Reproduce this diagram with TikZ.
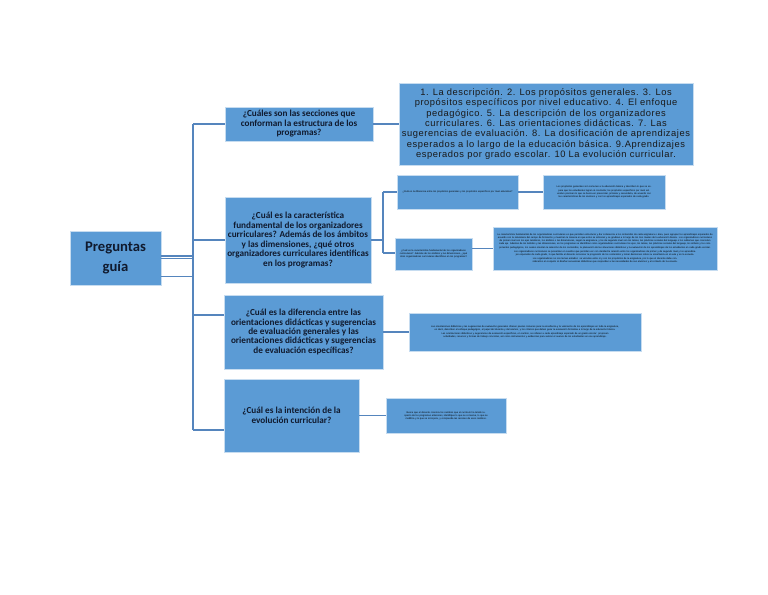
\documentclass[tikz,border=0pt]{standalone}
\usepackage{fontspec}
\setmainfont{Carlito}
\newfontfamily\arialf{Liberation Sans}
\newfontfamily\arialesp[LetterSpace=6]{Liberation Sans}
\definecolor{cajaazul}{HTML}{5B9BD5}
\definecolor{lineaazul}{HTML}{5585BD}
\definecolor{textoazul}{HTML}{101A2E}
\newcommand{\diminuto}{\arialf\fontsize{1.8}{2.35}\selectfont}

\begin{document}
\begin{tikzpicture}[x=0.75pt,y=-0.75pt,
    caja/.style={rectangle,fill=cajaazul,draw=white!65!cajaazul,line width=0.6pt,inner sep=1pt,align=center},
    pregunta/.style={caja,text=textoazul,font=\bfseries\fontsize{6.9}{7.1}\selectfont},
    nota/.style={caja,text=black,font=\diminuto},
    conector/.style={draw=lineaazul,line width=0.8pt}]
  \useasboundingbox (0,0) rectangle (768,594);

  \node[caja,text=textoazul,font=\bfseries\fontsize{11}{15}\selectfont,
    minimum width=68.25pt,minimum height=40.5pt] (guia) at (115.5,258) {Preguntas\\gu\'ia};

  \node[pregunta,minimum width=111pt,minimum height=25.5pt] (q1) at (299,124)
    {¿Cuáles son las secciones que\\conforman la estructura de los\\programas?};
  \node[pregunta,minimum width=109.5pt,minimum height=64.5pt] (q2) at (298,240)
    {¿Cuál es la característica\\fundamental de los organizadores\\curriculares? Además de los ámbitos\\y las dimensiones, ¿qué otros\\organizadores curriculares identificas\\en los programas?};
  \node[pregunta,minimum width=119.25pt,minimum height=55.5pt] (q3) at (303.5,332)
    {¿Cuál es la diferencia entre las\\orientaciones didácticas y sugerencias\\de evaluación generales y las\\orientaciones didácticas y sugerencias\\de evaluación específicas?};
  \node[pregunta,minimum width=101.25pt,minimum height=54.75pt] (q4) at (291.5,415.5)
    {¿Cuál es la intención de la\\evolución curricular?};

  \node[caja,text=black!90,font=\arialesp\fontsize{7}{7.8}\selectfont,
    minimum width=220.5pt,minimum height=61.5pt] (secciones) at (546,124)
    {1. La descripción. 2. Los propósitos generales. 3. Los\\
     propósitos específicos por nivel educativo.  4. El enfoque\\
     pedagógico. 5.  La descripción de los organizadores\\
     curriculares. 6. Las orientaciones didácticas. 7. Las\\
     sugerencias de evaluación. 8. La dosificación de aprendizajes\\
     esperados a lo largo de la educación básica. 9.Aprendizajes\\
     esperados por grado escolar. 10 La evolución curricular.};

  \node[nota,text width=86pt,minimum width=90.75pt,minimum height=25.5pt] (propositos) at (457.5,192)
    {¿Cuál es la diferencia entre los propósitos generales y los propósitos específicos por nivel educativo?};
  \node[nota,text width=54pt,minimum width=57.75pt,minimum height=24pt] (organizadores) at (433.5,254)
    {¿Cuál es la característica fundamental de los organizadores curriculares? Además de los ámbitos y las dimensiones, ¿qué otros organizadores curriculares identificas en los programas?};

  \node[nota,text width=88pt,minimum width=91.5pt,minimum height=25.5pt] (respprop) at (604,192)
    {Los propósitos generales son comunes a la educación básica y describen lo que se espera que los estudiantes logren al concluirla; los propósitos específicos por nivel educativo precisan lo que se busca en preescolar, primaria y secundaria, de acuerdo con las características de los alumnos y con los aprendizajes esperados de cada grado.};
  \node[nota,text width=164pt,minimum width=168pt,minimum height=32.25pt] (resporg) at (605,248.5)
    {La característica fundamental de los organizadores curriculares es que permiten estructurar y dar coherencia a los contenidos de cada asignatura o área, pues agrupan los aprendizajes esperados de acuerdo con la naturaleza del campo de formación y muestran la manera en que estos se articulan y se gradúan a lo largo de los tres niveles de la educación básica. Los organizadores curriculares de primer nivel son los ejes temáticos, los ámbitos o las dimensiones, según la asignatura, y los de segundo nivel son los temas, las prácticas sociales del lenguaje o los subtemas que concretan cada eje. Además de los ámbitos y las dimensiones, en los programas se identifican como organizadores curriculares los ejes, los temas, las prácticas sociales del lenguaje, los énfasis y los componentes pedagógicos, los cuales orientan la selección de los contenidos, la planeación de las situaciones didácticas y la evaluación de los aprendizajes de los estudiantes en cada grado escolar.\\[0.8pt]
     Los organizadores curriculares se presentan en cuadros que permiten ver con claridad la relación entre los organizadores de primer y de segundo nivel y los aprendizajes esperados de cada grado, lo que facilita al docente reconocer la progresión de los contenidos y tomar decisiones sobre su enseñanza en el aula y en la escuela.\\[0.8pt]
     Los organizadores no son temas aislados: se vinculan entre sí y con los propósitos de la asignatura, por lo que el docente debe considerarlos en conjunto al diseñar secuencias didácticas que respondan a las necesidades de sus alumnos y al contexto de la escuela.};
  \node[nota,text width=170pt,minimum width=174pt,minimum height=28.5pt] (orientaciones) at (525,332)
    {Las orientaciones didácticas y las sugerencias de evaluación generales ofrecen pautas comunes para la enseñanza y la valoración de los aprendizajes en toda la asignatura, es decir, describen el enfoque pedagógico, el papel del docente y del alumno, y los criterios que deben guiar la evaluación formativa a lo largo de la educación básica.\\[0.6pt]
     Las orientaciones didácticas y sugerencias de evaluación específicas, en cambio, se refieren a cada aprendizaje esperado de un grado escolar: proponen actividades, recursos y formas de trabajo concretas, así como instrumentos y evidencias para valorar el avance de los estudiantes en ese aprendizaje.};
  \node[nota,text width=87pt,minimum width=90pt,minimum height=26.25pt] (evolucion) at (446,415.5)
    {Busca que el docente conozca los cambios que el currículo ha tenido respecto de los programas anteriores, identifique lo que se conserva, lo que se modifica y lo que se incorpora, y comprenda las razones de esos cambios.};

  \coordinate (tronco1) at (193,124);
  \coordinate (tronco2) at (193,256);
  \coordinate (tronco3) at (193,315);
  \coordinate (tronco4) at (193,430);
  \coordinate (rama1) at (383,192);
  \coordinate (rama2) at (383,253);

  \draw[conector] (tronco1) -- (tronco4);
  \draw[conector] (guia.east |- tronco2) -- (tronco2);
  \draw[conector] ([yshift=-2pt]guia.east |- tronco2) -- ([yshift=-2pt]tronco2);
  \draw[conector] ([yshift=-15.5pt]guia.east |- tronco2) -- ([yshift=-15.5pt]tronco2);
  \draw[conector] (tronco1) -- (q1);
  \draw[conector] (tronco1 |- q2) -- (q2);
  \draw[conector] (tronco3) -- (tronco3 -| q3.west);
  \draw[conector] (tronco4) -- (tronco4 -| q4.west);

  \draw[conector] (q1) -- (secciones);
  \draw[conector] (q2.east) -- (q2.east -| rama1);
  \draw[conector] (rama1) -- (rama2);
  \draw[conector] (rama1) -- (propositos);
  \draw[conector] (rama2) -- (rama2 -| organizadores.west);
  \draw[conector] (propositos) -- (respprop);
  \draw[conector] (resporg.west -| organizadores.east) -- (resporg.west);
  \draw[conector] (q3) -- (orientaciones);
  \draw[conector] (q4.east |- evolucion) -- (evolucion);
\end{tikzpicture}
\end{document}
